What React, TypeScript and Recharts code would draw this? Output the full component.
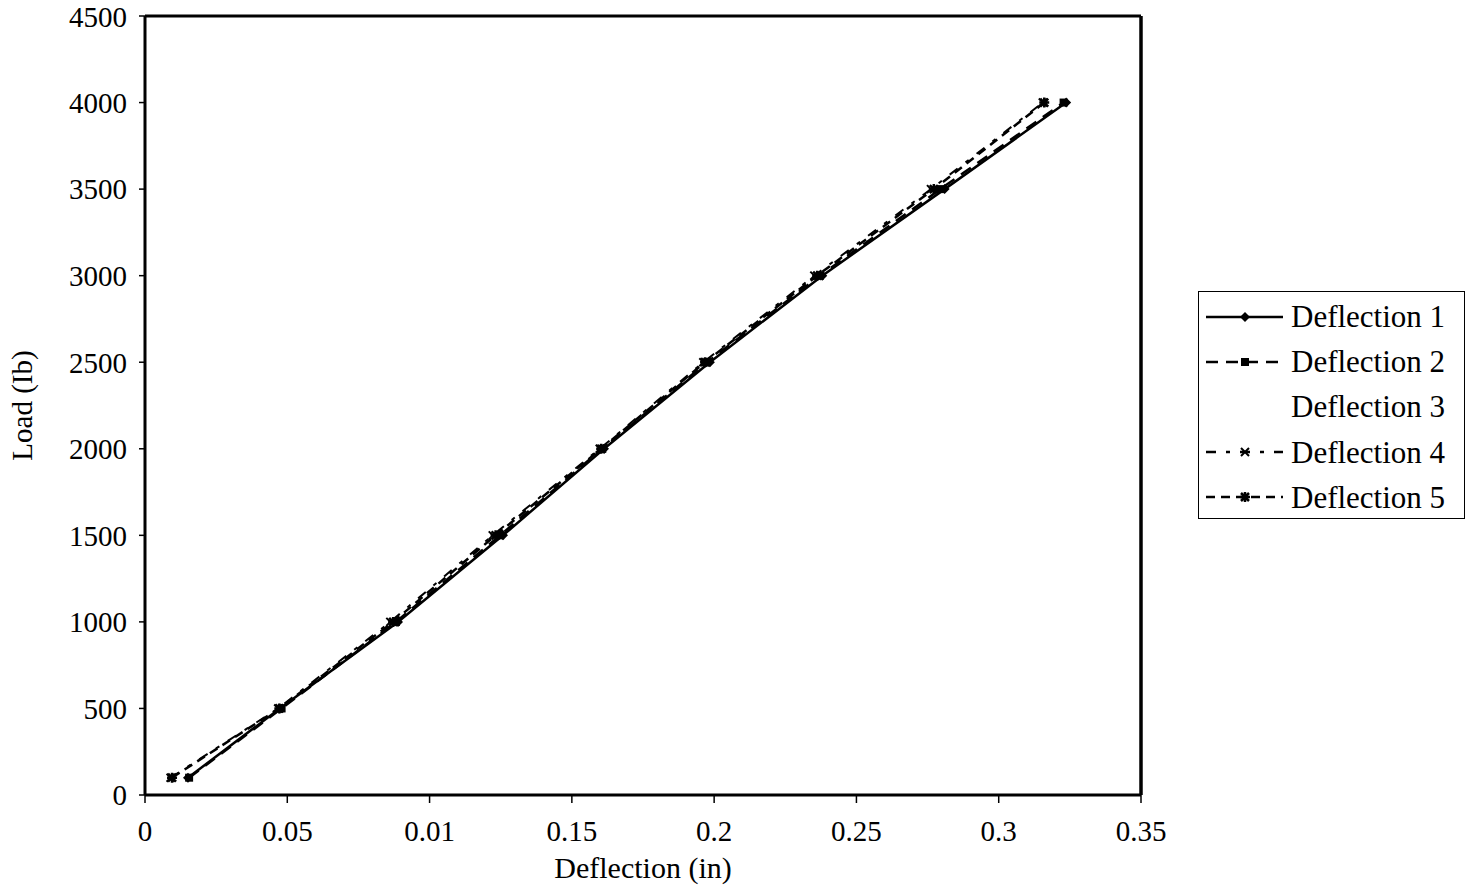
import React from 'react';
import { LineChart, Line, XAxis, YAxis, ReferenceLine, Label } from 'recharts';

const loads = [100, 500, 1000, 1500, 2000, 2500, 3000, 3500, 4000];
const deflection1 = [0.0151, 0.0474, 0.0889, 0.1258, 0.1613, 0.1985, 0.238, 0.281, 0.3237];
const deflection2 = [0.0155, 0.048, 0.0882, 0.1248, 0.1607, 0.1975, 0.2372, 0.2795, 0.3228];
const deflection3 = [0.012, 0.0475, 0.0875, 0.124, 0.1605, 0.197, 0.2365, 0.278, 0.319];
const deflection4 = [0.009, 0.0468, 0.0862, 0.1222, 0.1598, 0.1962, 0.2352, 0.2762, 0.3155];
const deflection5 = [0.0095, 0.0472, 0.0872, 0.1232, 0.1603, 0.1968, 0.2362, 0.2772, 0.316];

const xTicks = [0, 0.05, 0.1, 0.15, 0.2, 0.25, 0.3, 0.35];
const xTickLabels = ['0', '0.05', '0.01', '0.15', '0.2', '0.25', '0.3', '0.35'];
const yTicks = [0, 500, 1000, 1500, 2000, 2500, 3000, 3500, 4000, 4500];

const seriesNames = ['Deflection 1', 'Deflection 2', 'Deflection 3', 'Deflection 4', 'Deflection 5'];

const toPoints = (xs: number[]) => xs.map((x, i) => ({ x, y: loads[i] }));
const data1 = toPoints(deflection1);
const data2 = toPoints(deflection2);
const data3 = toPoints(deflection3);
const data4 = toPoints(deflection4);
const data5 = toPoints(deflection5);

const FONT = '"Liberation Serif", "Times New Roman", serif';

type Shape = 'diamond' | 'square' | 'none' | 'x' | 'star';

const drawMarker = (shape: Shape, cx: number, cy: number, key?: any) => {
  if (shape === 'diamond')
    return <path key={key} d={`M${cx},${cy - 5}L${cx + 5},${cy}L${cx},${cy + 5}L${cx - 5},${cy}Z`} fill="#000" />;
  if (shape === 'square') return <rect key={key} x={cx - 4} y={cy - 4} width={8} height={8} fill="#000" />;
  if (shape === 'x')
    return (
      <path key={key} d={`M${cx - 4},${cy - 4}L${cx + 4},${cy + 4}M${cx - 4},${cy + 4}L${cx + 4},${cy - 4}`} stroke="#000" strokeWidth={2} />
    );
  if (shape === 'star')
    return (
      <path
        key={key}
        d={`M${cx - 5},${cy}L${cx + 5},${cy}M${cx},${cy - 5}L${cx},${cy + 5}M${cx - 4},${cy - 4}L${cx + 4},${cy + 4}M${cx - 4},${cy + 4}L${cx + 4},${cy - 4}`}
        stroke="#000"
        strokeWidth={2.5}
      />
    );
  return <g key={key} />;
};

const dotFor = (shape: Shape) => (props: any) => {
  const { cx, cy, index } = props;
  return drawMarker(shape, cx, cy, `d-${shape}-${index}`);
};

const legendStyles: { dash: string; shape: Shape; show: boolean }[] = [
  { dash: '', shape: 'diamond', show: true },
  { dash: '12 8', shape: 'square', show: true },
  { dash: '', shape: 'none', show: false },
  { dash: '10 10 4 10', shape: 'x', show: true },
  { dash: '9 6', shape: 'star', show: true },
];

const LegendBox = () => (
  <div
    style={{
      position: 'absolute',
      left: 1198,
      top: 291,
      border: '1.5px solid #000',
      width: 267,
      height: 228,
      boxSizing: 'border-box',
      background: '#fff',
      fontFamily: FONT,
      fontSize: 31,
      color: '#000',
      paddingTop: 2,
    }}
  >
    {seriesNames.map((name, i) => (
      <div key={name} style={{ display: 'flex', alignItems: 'center', height: 45.2 }}>
        <svg width={92} height={20} style={{ flex: 'none' }}>
          {legendStyles[i].show && (
            <>
              <line x1={7} y1={10} x2={84} y2={10} stroke="#000" strokeWidth={2.5} strokeDasharray={legendStyles[i].dash} />
              {drawMarker(legendStyles[i].shape, 46, 10)}
            </>
          )}
        </svg>
        <span style={{ whiteSpace: 'nowrap', lineHeight: 1 }}>{name}</span>
      </div>
    ))}
  </div>
);

export default function App() {
  return (
    <div style={{ position: 'absolute', left: 0, top: 0, width: 1472, height: 889, background: '#fff' }}>
      <LineChart width={1472} height={889} margin={{ top: 16, right: 331, bottom: 34, left: 45 }}>
        <XAxis
          type="number"
          dataKey="x"
          domain={[0, 0.35]}
          ticks={xTicks}
          tickFormatter={(v: number) => xTickLabels[xTicks.findIndex((t) => Math.abs(t - v) < 1e-9)] ?? String(v)}
          height={60}
          axisLine={{ stroke: '#000', strokeWidth: 3 }}
          tickLine={{ stroke: '#000', strokeWidth: 1.5 }}
          tickSize={8}
          tickMargin={17}
          tick={{ fill: '#000', fontSize: 29, fontFamily: FONT }}
          allowDataOverflow
        >
          <Label value="Deflection (in)" position="bottom" offset={2} style={{ fill: '#000', fontSize: 30, fontFamily: FONT }} />
        </XAxis>
        <YAxis
          type="number"
          dataKey="y"
          domain={[0, 4500]}
          ticks={yTicks}
          width={100}
          axisLine={{ stroke: '#000', strokeWidth: 3 }}
          tickLine={{ stroke: '#000', strokeWidth: 1.5 }}
          tickSize={6}
          tickMargin={12}
          tick={{ fill: '#000', fontSize: 29, fontFamily: FONT }}
          allowDataOverflow
        >
          <Label
            value="Load (Ib)"
            angle={-90}
            position="insideLeft"
            offset={-23}
            style={{ fill: '#000', fontSize: 29, fontFamily: FONT, textAnchor: 'middle' }}
          />
        </YAxis>
        <ReferenceLine y={4500} stroke="#000" strokeWidth={3} />
        <ReferenceLine x={0.35} stroke="#000" strokeWidth={3.5} />
        <Line data={data1} dataKey="y" name={seriesNames[0]} stroke="#000" strokeWidth={2.5} dot={dotFor('diamond')} isAnimationActive={false} />
        <Line data={data2} dataKey="y" name={seriesNames[1]} stroke="#000" strokeWidth={2.5} strokeDasharray="12 8" dot={dotFor('square')} isAnimationActive={false} />
        <Line data={data3} dataKey="y" name={seriesNames[2]} stroke="none" dot={false} isAnimationActive={false} />
        <Line data={data4} dataKey="y" name={seriesNames[3]} stroke="#000" strokeWidth={2} strokeDasharray="10 10 4 10" dot={dotFor('x')} isAnimationActive={false} />
        <Line data={data5} dataKey="y" name={seriesNames[4]} stroke="#000" strokeWidth={2.5} strokeDasharray="9 6" dot={dotFor('star')} isAnimationActive={false} />
      </LineChart>
      <LegendBox />
    </div>
  );
}
